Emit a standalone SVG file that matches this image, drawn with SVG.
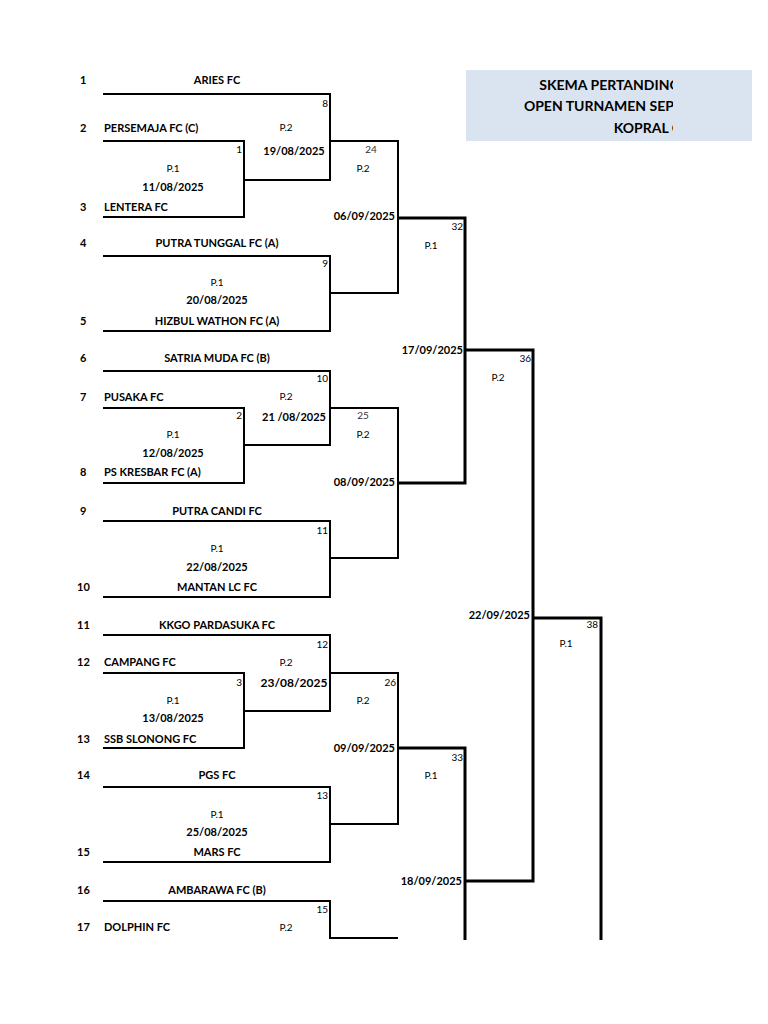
<svg xmlns="http://www.w3.org/2000/svg" width="768" height="1024" viewBox="0 0 768 1024">
<style>
text{font-family:Lato,"Liberation Sans",sans-serif;fill:#000}
.t{font-size:11px;font-weight:bold}
.n{font-size:11px;font-weight:bold}
.m{font-size:10px;fill:#333}
.d{font-size:11px;font-weight:bold}
.c{text-anchor:middle}
.r{text-anchor:end}
.h{font-size:14px;font-weight:bold;text-anchor:end}
.l{stroke:#000;stroke-width:2;fill:none}
.k{stroke:#000;stroke-width:3;fill:none}
</style>
<defs><clipPath id="cp"><rect x="466" y="70" width="207" height="71"/></clipPath></defs>
<g id="header">
<rect x="466" y="70" width="286" height="71" fill="#dae3f0"/>
<g clip-path="url(#cp)">
<text class="h" x="700" y="90">SKEMA PERTANDINGAN</text>
<text class="h" x="730" y="111">OPEN TURNAMEN SEPAKBOLA</text>
<text class="h" x="700" y="133">KOPRAL CUP</text>
</g>
</g>
<g id="connectors">
<path class="l" d="M103 94H330V180H244M103 141H244V217H103M330 141H398V293H330M103 256H330V331H103"/>
<path class="l" d="M103 371H330V445H244M103 408H244V483H103M330 408H398V558H330M103 521H330V597H103"/>
<path class="l" d="M103 635H330V711H244M103 673H244V748H103M330 673H398V824H330M103 787H330V862H103"/>
<path class="l" d="M103 901H330V938H398"/>
<path class="k" d="M398 218H465V483H398M465 350H533V881H465M398 748H465V940M533 618H601V940"/>
</g>
<g id="seeds" class="n">
<text x="80" y="84">1</text><text x="80" y="132">2</text><text x="80" y="211">3</text><text x="80" y="247">4</text><text x="80" y="325">5</text><text x="80" y="362">6</text><text x="80" y="401">7</text><text x="80" y="476">8</text><text x="80" y="515">9</text><text x="77" y="591">10</text><text x="77" y="629">11</text><text x="77" y="666">12</text><text x="77" y="743">13</text><text x="77" y="779">14</text><text x="77" y="856">15</text><text x="77" y="894">16</text><text x="77" y="931">17</text>
</g>
<g id="teams" class="t">
<text class="c" x="217" y="84">ARIES FC</text>
<text x="104" y="132">PERSEMAJA FC (C)</text>
<text x="104" y="211">LENTERA FC</text>
<text class="c" x="217" y="247">PUTRA TUNGGAL FC (A)</text>
<text class="c" x="217" y="325">HIZBUL WATHON FC (A)</text>
<text class="c" x="217" y="362">SATRIA MUDA FC (B)</text>
<text x="104" y="401">PUSAKA FC</text>
<text x="104" y="476">PS KRESBAR FC (A)</text>
<text class="c" x="217" y="515">PUTRA CANDI FC</text>
<text class="c" x="217" y="591">MANTAN LC FC</text>
<text class="c" x="217" y="629">KKGO PARDASUKA FC</text>
<text x="104" y="666">CAMPANG FC</text>
<text x="104" y="743">SSB SLONONG FC</text>
<text class="c" x="217" y="779">PGS FC</text>
<text class="c" x="217" y="856">MARS FC</text>
<text class="c" x="217" y="894">AMBARAWA FC (B)</text>
<text x="104" y="931">DOLPHIN FC</text>
</g>
<g id="matchnums" class="m r">
<text x="328" y="107">8</text><text x="242" y="153">1</text><text x="371" y="153" class="m c">24</text><text x="328" y="267">9</text><text x="463" y="230">32</text>
<text x="328" y="382">10</text><text x="242" y="419">2</text><text x="363" y="419" class="m c">25</text><text x="328" y="534">11</text><text x="531" y="362">36</text>
<text x="328" y="648">12</text><text x="242" y="686">3</text><text x="396" y="686">26</text><text x="328" y="799">13</text><text x="463" y="761">33</text><text x="598" y="628">38</text><text x="328" y="913">15</text>
</g>
<g id="pools" class="m c">
<text x="286" y="131">P.2</text><text x="173" y="172">P.1</text><text x="217" y="286">P.1</text><text x="363" y="172">P.2</text><text x="431" y="249">P.1</text><text x="498" y="381">P.2</text>
<text x="286" y="400">P.2</text><text x="173" y="438">P.1</text><text x="363" y="438">P.2</text><text x="217" y="552">P.1</text>
<text x="286" y="666">P.2</text><text x="173" y="704">P.1</text><text x="363" y="704">P.2</text><text x="431" y="779">P.1</text><text x="217" y="818">P.1</text><text x="566" y="647">P.1</text><text x="286" y="931">P.2</text>
</g>
<g id="dates" class="d">
<text class="c" x="294" y="155">19/08/2025</text><text class="c" x="173" y="191">11/08/2025</text><text class="c" x="217" y="304">20/08/2025</text><text class="r" x="395" y="220">06/09/2025</text><text class="r" x="463" y="354">17/09/2025</text>
<text class="c" x="294" y="421">21 /08/2025</text><text class="c" x="173" y="457">12/08/2025</text><text class="r" x="395" y="486">08/09/2025</text><text class="c" x="217" y="571">22/08/2025</text>
<text class="c" x="294" y="687" font-size="12">23/08/2025</text><text class="c" x="173" y="722">13/08/2025</text><text class="r" x="395" y="752">09/09/2025</text><text class="c" x="217" y="836">25/08/2025</text><text class="r" x="462" y="885">18/09/2025</text><text class="r" x="530" y="619">22/09/2025</text>
</g>
</svg>
